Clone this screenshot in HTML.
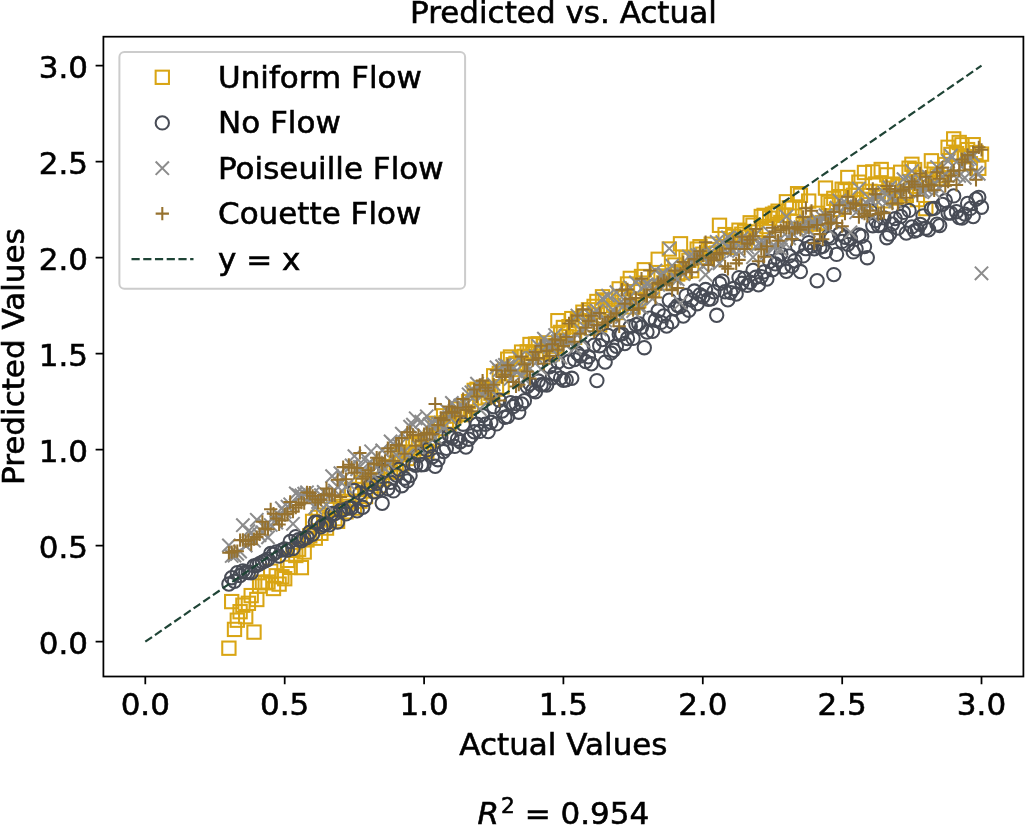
<!DOCTYPE html>
<html lang="en"><head><meta charset="utf-8"><title>Predicted vs. Actual</title>
<style>html,body{margin:0;padding:0;background:#fff;}body{width:1025px;height:825px;overflow:hidden;}svg{display:block;}text{font-family:'DejaVu Sans', 'Liberation Sans', sans-serif;fill:#000;stroke:#000;stroke-width:0.6px;}</style>
</head><body>
<svg width="1025" height="825" viewBox="0 0 1025 825">
<rect width="1025" height="825" fill="#fff"/>
<defs>
<rect id="sq" x="-6.65" y="-6.65" width="13.30" height="13.30" fill="none" stroke="#d9a514" stroke-width="2.05"/>
<circle id="ci" r="6.65" fill="none" stroke="#484c56" stroke-width="2.05"/>
<path id="xm" d="M-6.65 -6.65L6.65 6.65M-6.65 6.65L6.65 -6.65" fill="none" stroke="#8c8c8c" stroke-width="2.05"/>
<path id="pl" d="M-6.65 0H6.65M0 -6.65V6.65" fill="none" stroke="#96722f" stroke-width="2.05"/>
</defs>
<g>
<use href="#sq" x="228.9" y="648.2"/><use href="#sq" x="231.7" y="601.6"/><use href="#sq" x="234.5" y="629.4"/><use href="#sq" x="237.3" y="620.2"/><use href="#sq" x="240.1" y="611.7"/><use href="#sq" x="242.9" y="605.2"/><use href="#sq" x="245.7" y="616.7"/><use href="#sq" x="248.4" y="603.3"/><use href="#sq" x="251.2" y="595.6"/><use href="#sq" x="254.0" y="632.1"/><use href="#sq" x="256.8" y="599.5"/><use href="#sq" x="259.6" y="586.0"/><use href="#sq" x="262.4" y="582.2"/><use href="#sq" x="265.2" y="582.8"/><use href="#sq" x="268.0" y="582.1"/><use href="#sq" x="270.7" y="571.2"/><use href="#sq" x="273.5" y="588.5"/><use href="#sq" x="276.3" y="575.8"/><use href="#sq" x="279.1" y="584.1"/><use href="#sq" x="281.9" y="576.8"/><use href="#sq" x="284.7" y="578.7"/><use href="#sq" x="287.5" y="560.4"/><use href="#sq" x="290.2" y="567.4"/><use href="#sq" x="293.0" y="550.3"/><use href="#sq" x="295.8" y="555.5"/><use href="#sq" x="298.6" y="549.3"/><use href="#sq" x="301.4" y="567.6"/><use href="#sq" x="304.2" y="552.0"/><use href="#sq" x="307.0" y="539.9"/><use href="#sq" x="309.8" y="535.8"/><use href="#sq" x="312.6" y="521.4"/><use href="#sq" x="315.3" y="538.2"/><use href="#sq" x="318.1" y="517.4"/><use href="#sq" x="320.9" y="533.3"/><use href="#sq" x="323.7" y="515.2"/><use href="#sq" x="326.5" y="528.1"/><use href="#sq" x="329.3" y="519.3"/><use href="#sq" x="332.1" y="509.5"/><use href="#sq" x="334.9" y="518.7"/><use href="#sq" x="337.6" y="521.3"/><use href="#sq" x="340.4" y="508.4"/><use href="#sq" x="343.2" y="506.3"/><use href="#sq" x="346.0" y="511.8"/><use href="#sq" x="348.8" y="501.3"/><use href="#sq" x="351.6" y="489.5"/><use href="#sq" x="354.4" y="508.1"/><use href="#sq" x="357.1" y="489.6"/><use href="#sq" x="359.9" y="501.2"/><use href="#sq" x="362.7" y="482.3"/><use href="#sq" x="365.5" y="496.5"/><use href="#sq" x="368.3" y="480.1"/><use href="#sq" x="371.1" y="491.0"/><use href="#sq" x="373.9" y="479.7"/><use href="#sq" x="376.7" y="471.0"/><use href="#sq" x="379.4" y="485.8"/><use href="#sq" x="382.2" y="479.5"/><use href="#sq" x="385.0" y="466.9"/><use href="#sq" x="387.8" y="466.5"/><use href="#sq" x="390.6" y="472.3"/><use href="#sq" x="393.4" y="470.2"/><use href="#sq" x="396.2" y="462.9"/><use href="#sq" x="399.0" y="454.6"/><use href="#sq" x="401.8" y="463.8"/><use href="#sq" x="404.5" y="452.1"/><use href="#sq" x="407.3" y="458.5"/><use href="#sq" x="410.1" y="453.9"/><use href="#sq" x="412.9" y="445.0"/><use href="#sq" x="415.7" y="443.4"/><use href="#sq" x="418.5" y="441.5"/><use href="#sq" x="421.3" y="448.3"/><use href="#sq" x="424.1" y="451.3"/><use href="#sq" x="426.8" y="451.2"/><use href="#sq" x="429.6" y="439.2"/><use href="#sq" x="432.4" y="440.4"/><use href="#sq" x="435.2" y="423.3"/><use href="#sq" x="438.0" y="424.5"/><use href="#sq" x="440.8" y="428.6"/><use href="#sq" x="443.6" y="415.8"/><use href="#sq" x="446.4" y="422.7"/><use href="#sq" x="449.1" y="423.9"/><use href="#sq" x="451.9" y="421.0"/><use href="#sq" x="454.7" y="416.0"/><use href="#sq" x="457.5" y="409.0"/><use href="#sq" x="460.3" y="414.5"/><use href="#sq" x="463.1" y="414.5"/><use href="#sq" x="465.9" y="412.0"/><use href="#sq" x="468.6" y="401.6"/><use href="#sq" x="471.4" y="406.3"/><use href="#sq" x="474.2" y="390.4"/><use href="#sq" x="477.0" y="389.3"/><use href="#sq" x="479.8" y="397.9"/><use href="#sq" x="482.6" y="387.6"/><use href="#sq" x="485.4" y="389.9"/><use href="#sq" x="488.2" y="396.7"/><use href="#sq" x="490.9" y="393.2"/><use href="#sq" x="493.7" y="375.8"/><use href="#sq" x="496.5" y="389.1"/><use href="#sq" x="499.3" y="373.4"/><use href="#sq" x="502.1" y="386.9"/><use href="#sq" x="504.9" y="369.4"/><use href="#sq" x="507.7" y="359.2"/><use href="#sq" x="510.5" y="357.0"/><use href="#sq" x="513.2" y="364.7"/><use href="#sq" x="516.0" y="363.4"/><use href="#sq" x="518.8" y="369.5"/><use href="#sq" x="521.6" y="352.1"/><use href="#sq" x="524.4" y="356.4"/><use href="#sq" x="527.2" y="351.8"/><use href="#sq" x="530.0" y="344.5"/><use href="#sq" x="532.8" y="353.5"/><use href="#sq" x="535.5" y="344.1"/><use href="#sq" x="538.3" y="343.9"/><use href="#sq" x="541.1" y="352.8"/><use href="#sq" x="543.9" y="345.9"/><use href="#sq" x="546.7" y="342.9"/><use href="#sq" x="549.5" y="351.6"/><use href="#sq" x="552.3" y="353.7"/><use href="#sq" x="555.1" y="346.2"/><use href="#sq" x="557.9" y="320.7"/><use href="#sq" x="560.6" y="332.4"/><use href="#sq" x="563.4" y="327.5"/><use href="#sq" x="566.2" y="336.7"/><use href="#sq" x="569.0" y="326.7"/><use href="#sq" x="571.8" y="318.6"/><use href="#sq" x="574.6" y="337.3"/><use href="#sq" x="577.4" y="320.4"/><use href="#sq" x="580.2" y="320.7"/><use href="#sq" x="582.9" y="312.2"/><use href="#sq" x="585.7" y="316.4"/><use href="#sq" x="588.5" y="309.8"/><use href="#sq" x="591.3" y="328.4"/><use href="#sq" x="594.1" y="306.4"/><use href="#sq" x="596.9" y="301.5"/><use href="#sq" x="599.7" y="324.9"/><use href="#sq" x="602.5" y="296.8"/><use href="#sq" x="605.2" y="299.9"/><use href="#sq" x="608.0" y="310.4"/><use href="#sq" x="610.8" y="308.2"/><use href="#sq" x="613.6" y="305.4"/><use href="#sq" x="616.4" y="312.5"/><use href="#sq" x="619.2" y="288.9"/><use href="#sq" x="622.0" y="296.8"/><use href="#sq" x="624.8" y="297.8"/><use href="#sq" x="627.5" y="284.0"/><use href="#sq" x="630.3" y="278.4"/><use href="#sq" x="633.1" y="306.9"/><use href="#sq" x="635.9" y="299.7"/><use href="#sq" x="638.7" y="300.7"/><use href="#sq" x="641.5" y="276.5"/><use href="#sq" x="644.3" y="269.8"/><use href="#sq" x="647.0" y="290.3"/><use href="#sq" x="649.8" y="287.1"/><use href="#sq" x="652.6" y="290.3"/><use href="#sq" x="655.4" y="278.0"/><use href="#sq" x="658.2" y="259.3"/><use href="#sq" x="661.0" y="276.0"/><use href="#sq" x="663.8" y="282.9"/><use href="#sq" x="666.6" y="277.3"/><use href="#sq" x="669.3" y="249.0"/><use href="#sq" x="672.1" y="271.8"/><use href="#sq" x="674.9" y="265.0"/><use href="#sq" x="677.7" y="274.0"/><use href="#sq" x="680.5" y="243.8"/><use href="#sq" x="683.3" y="272.6"/><use href="#sq" x="686.1" y="257.5"/><use href="#sq" x="688.9" y="260.3"/><use href="#sq" x="691.7" y="270.7"/><use href="#sq" x="694.4" y="257.3"/><use href="#sq" x="697.2" y="249.1"/><use href="#sq" x="700.0" y="246.7"/><use href="#sq" x="702.8" y="254.2"/><use href="#sq" x="705.6" y="257.5"/><use href="#sq" x="708.4" y="249.6"/><use href="#sq" x="711.2" y="244.2"/><use href="#sq" x="714.0" y="253.6"/><use href="#sq" x="716.7" y="253.1"/><use href="#sq" x="719.5" y="225.3"/><use href="#sq" x="722.3" y="246.7"/><use href="#sq" x="725.1" y="234.6"/><use href="#sq" x="727.9" y="247.4"/><use href="#sq" x="730.7" y="240.7"/><use href="#sq" x="733.5" y="236.4"/><use href="#sq" x="736.2" y="239.6"/><use href="#sq" x="739.0" y="230.2"/><use href="#sq" x="741.8" y="234.2"/><use href="#sq" x="744.6" y="231.5"/><use href="#sq" x="747.4" y="237.2"/><use href="#sq" x="750.2" y="222.8"/><use href="#sq" x="753.0" y="225.2"/><use href="#sq" x="755.8" y="232.0"/><use href="#sq" x="758.5" y="242.6"/><use href="#sq" x="761.3" y="216.5"/><use href="#sq" x="764.1" y="215.4"/><use href="#sq" x="766.9" y="226.5"/><use href="#sq" x="769.7" y="218.2"/><use href="#sq" x="772.5" y="214.3"/><use href="#sq" x="775.3" y="213.2"/><use href="#sq" x="778.1" y="211.2"/><use href="#sq" x="780.8" y="222.5"/><use href="#sq" x="783.6" y="215.4"/><use href="#sq" x="786.4" y="201.8"/><use href="#sq" x="789.2" y="207.8"/><use href="#sq" x="792.0" y="208.2"/><use href="#sq" x="794.8" y="216.1"/><use href="#sq" x="797.6" y="193.7"/><use href="#sq" x="800.4" y="195.3"/><use href="#sq" x="803.1" y="224.5"/><use href="#sq" x="805.9" y="225.0"/><use href="#sq" x="808.7" y="201.1"/><use href="#sq" x="811.5" y="223.9"/><use href="#sq" x="814.3" y="223.3"/><use href="#sq" x="817.1" y="213.3"/><use href="#sq" x="819.9" y="223.8"/><use href="#sq" x="822.7" y="222.6"/><use href="#sq" x="825.5" y="188.1"/><use href="#sq" x="828.2" y="202.5"/><use href="#sq" x="831.0" y="204.6"/><use href="#sq" x="833.8" y="198.4"/><use href="#sq" x="836.6" y="209.4"/><use href="#sq" x="839.4" y="196.7"/><use href="#sq" x="842.2" y="189.2"/><use href="#sq" x="845.0" y="190.5"/><use href="#sq" x="847.8" y="177.5"/><use href="#sq" x="850.5" y="190.0"/><use href="#sq" x="853.3" y="195.3"/><use href="#sq" x="856.1" y="189.3"/><use href="#sq" x="858.9" y="182.2"/><use href="#sq" x="861.7" y="199.3"/><use href="#sq" x="864.5" y="172.5"/><use href="#sq" x="867.3" y="200.1"/><use href="#sq" x="870.0" y="191.4"/><use href="#sq" x="872.8" y="171.9"/><use href="#sq" x="875.6" y="184.0"/><use href="#sq" x="878.4" y="191.9"/><use href="#sq" x="881.2" y="169.5"/><use href="#sq" x="884.0" y="200.8"/><use href="#sq" x="886.8" y="174.9"/><use href="#sq" x="889.6" y="184.8"/><use href="#sq" x="892.4" y="184.1"/><use href="#sq" x="895.1" y="198.1"/><use href="#sq" x="897.9" y="186.4"/><use href="#sq" x="900.7" y="172.3"/><use href="#sq" x="903.5" y="193.4"/><use href="#sq" x="906.3" y="195.6"/><use href="#sq" x="909.1" y="168.2"/><use href="#sq" x="911.9" y="164.3"/><use href="#sq" x="914.6" y="169.6"/><use href="#sq" x="917.4" y="199.6"/><use href="#sq" x="920.2" y="182.0"/><use href="#sq" x="923.0" y="183.7"/><use href="#sq" x="925.8" y="208.6"/><use href="#sq" x="928.6" y="179.2"/><use href="#sq" x="931.4" y="160.8"/><use href="#sq" x="934.2" y="169.4"/><use href="#sq" x="937.0" y="175.8"/><use href="#sq" x="939.7" y="178.5"/><use href="#sq" x="942.5" y="179.2"/><use href="#sq" x="945.3" y="164.5"/><use href="#sq" x="948.1" y="147.3"/><use href="#sq" x="950.9" y="154.5"/><use href="#sq" x="953.7" y="138.9"/><use href="#sq" x="956.5" y="153.6"/><use href="#sq" x="959.2" y="142.5"/><use href="#sq" x="962.0" y="144.8"/><use href="#sq" x="964.8" y="156.7"/><use href="#sq" x="967.6" y="149.6"/><use href="#sq" x="970.4" y="163.7"/><use href="#sq" x="973.2" y="144.7"/><use href="#sq" x="976.0" y="152.5"/><use href="#sq" x="978.8" y="168.3"/><use href="#sq" x="981.5" y="154.1"/>
</g>
<g>
<use href="#ci" x="228.9" y="584.0"/><use href="#ci" x="231.7" y="577.7"/><use href="#ci" x="234.5" y="581.3"/><use href="#ci" x="237.3" y="572.7"/><use href="#ci" x="240.1" y="575.5"/><use href="#ci" x="242.9" y="570.9"/><use href="#ci" x="245.7" y="572.3"/><use href="#ci" x="248.4" y="572.6"/><use href="#ci" x="251.2" y="572.8"/><use href="#ci" x="254.0" y="565.9"/><use href="#ci" x="256.8" y="565.2"/><use href="#ci" x="259.6" y="563.8"/><use href="#ci" x="262.4" y="562.1"/><use href="#ci" x="265.2" y="560.7"/><use href="#ci" x="268.0" y="559.2"/><use href="#ci" x="270.7" y="553.5"/><use href="#ci" x="273.5" y="554.1"/><use href="#ci" x="276.3" y="551.9"/><use href="#ci" x="279.1" y="556.1"/><use href="#ci" x="281.9" y="550.1"/><use href="#ci" x="284.7" y="549.0"/><use href="#ci" x="287.5" y="550.1"/><use href="#ci" x="290.2" y="541.5"/><use href="#ci" x="293.0" y="548.5"/><use href="#ci" x="295.8" y="536.6"/><use href="#ci" x="298.6" y="539.8"/><use href="#ci" x="301.4" y="540.8"/><use href="#ci" x="304.2" y="538.4"/><use href="#ci" x="307.0" y="537.5"/><use href="#ci" x="309.8" y="532.3"/><use href="#ci" x="312.6" y="534.3"/><use href="#ci" x="315.3" y="522.2"/><use href="#ci" x="318.1" y="522.1"/><use href="#ci" x="320.9" y="526.9"/><use href="#ci" x="323.7" y="524.8"/><use href="#ci" x="326.5" y="523.6"/><use href="#ci" x="329.3" y="524.9"/><use href="#ci" x="332.1" y="513.4"/><use href="#ci" x="334.9" y="513.6"/><use href="#ci" x="337.6" y="522.0"/><use href="#ci" x="340.4" y="510.4"/><use href="#ci" x="343.2" y="509.9"/><use href="#ci" x="346.0" y="513.9"/><use href="#ci" x="348.8" y="507.9"/><use href="#ci" x="351.6" y="507.9"/><use href="#ci" x="354.4" y="490.5"/><use href="#ci" x="357.1" y="510.8"/><use href="#ci" x="359.9" y="492.9"/><use href="#ci" x="362.7" y="507.3"/><use href="#ci" x="365.5" y="499.6"/><use href="#ci" x="368.3" y="487.4"/><use href="#ci" x="371.1" y="484.3"/><use href="#ci" x="373.9" y="491.8"/><use href="#ci" x="376.7" y="483.2"/><use href="#ci" x="379.4" y="489.0"/><use href="#ci" x="382.2" y="503.3"/><use href="#ci" x="385.0" y="470.0"/><use href="#ci" x="387.8" y="488.8"/><use href="#ci" x="390.6" y="482.3"/><use href="#ci" x="393.4" y="490.9"/><use href="#ci" x="396.2" y="475.1"/><use href="#ci" x="399.0" y="469.3"/><use href="#ci" x="401.8" y="485.7"/><use href="#ci" x="404.5" y="478.2"/><use href="#ci" x="407.3" y="480.9"/><use href="#ci" x="410.1" y="475.5"/><use href="#ci" x="412.9" y="463.7"/><use href="#ci" x="415.7" y="465.3"/><use href="#ci" x="418.5" y="455.6"/><use href="#ci" x="421.3" y="464.7"/><use href="#ci" x="424.1" y="464.5"/><use href="#ci" x="426.8" y="449.9"/><use href="#ci" x="429.6" y="446.0"/><use href="#ci" x="432.4" y="456.7"/><use href="#ci" x="435.2" y="466.3"/><use href="#ci" x="438.0" y="459.7"/><use href="#ci" x="440.8" y="437.7"/><use href="#ci" x="443.6" y="451.5"/><use href="#ci" x="446.4" y="448.3"/><use href="#ci" x="449.1" y="434.7"/><use href="#ci" x="451.9" y="438.0"/><use href="#ci" x="454.7" y="446.4"/><use href="#ci" x="457.5" y="439.1"/><use href="#ci" x="460.3" y="441.7"/><use href="#ci" x="463.1" y="424.2"/><use href="#ci" x="465.9" y="447.1"/><use href="#ci" x="468.6" y="439.2"/><use href="#ci" x="471.4" y="435.9"/><use href="#ci" x="474.2" y="431.8"/><use href="#ci" x="477.0" y="424.2"/><use href="#ci" x="479.8" y="431.4"/><use href="#ci" x="482.6" y="415.6"/><use href="#ci" x="485.4" y="424.2"/><use href="#ci" x="488.2" y="431.6"/><use href="#ci" x="490.9" y="422.3"/><use href="#ci" x="493.7" y="406.7"/><use href="#ci" x="496.5" y="423.9"/><use href="#ci" x="499.3" y="400.3"/><use href="#ci" x="502.1" y="411.1"/><use href="#ci" x="504.9" y="417.3"/><use href="#ci" x="507.7" y="416.5"/><use href="#ci" x="510.5" y="402.7"/><use href="#ci" x="513.2" y="406.5"/><use href="#ci" x="516.0" y="403.5"/><use href="#ci" x="518.8" y="412.2"/><use href="#ci" x="521.6" y="403.9"/><use href="#ci" x="524.4" y="400.7"/><use href="#ci" x="527.2" y="386.5"/><use href="#ci" x="530.0" y="383.9"/><use href="#ci" x="532.8" y="390.4"/><use href="#ci" x="535.5" y="391.7"/><use href="#ci" x="538.3" y="381.0"/><use href="#ci" x="541.1" y="384.7"/><use href="#ci" x="543.9" y="384.6"/><use href="#ci" x="546.7" y="385.0"/><use href="#ci" x="549.5" y="366.7"/><use href="#ci" x="552.3" y="377.8"/><use href="#ci" x="555.1" y="373.7"/><use href="#ci" x="557.9" y="362.1"/><use href="#ci" x="560.6" y="378.1"/><use href="#ci" x="563.4" y="380.4"/><use href="#ci" x="566.2" y="379.9"/><use href="#ci" x="569.0" y="361.5"/><use href="#ci" x="571.8" y="378.3"/><use href="#ci" x="574.6" y="359.6"/><use href="#ci" x="577.4" y="353.3"/><use href="#ci" x="580.2" y="356.0"/><use href="#ci" x="582.9" y="347.3"/><use href="#ci" x="585.7" y="361.5"/><use href="#ci" x="588.5" y="356.8"/><use href="#ci" x="591.3" y="363.8"/><use href="#ci" x="594.1" y="345.2"/><use href="#ci" x="596.9" y="380.6"/><use href="#ci" x="599.7" y="345.7"/><use href="#ci" x="602.5" y="339.6"/><use href="#ci" x="605.2" y="362.1"/><use href="#ci" x="608.0" y="335.4"/><use href="#ci" x="610.8" y="353.0"/><use href="#ci" x="613.6" y="350.3"/><use href="#ci" x="616.4" y="346.3"/><use href="#ci" x="619.2" y="334.6"/><use href="#ci" x="622.0" y="333.9"/><use href="#ci" x="624.8" y="343.5"/><use href="#ci" x="627.5" y="338.5"/><use href="#ci" x="630.3" y="326.8"/><use href="#ci" x="633.1" y="338.4"/><use href="#ci" x="635.9" y="324.6"/><use href="#ci" x="638.7" y="323.7"/><use href="#ci" x="641.5" y="327.2"/><use href="#ci" x="644.3" y="347.7"/><use href="#ci" x="647.0" y="332.1"/><use href="#ci" x="649.8" y="318.2"/><use href="#ci" x="652.6" y="331.3"/><use href="#ci" x="655.4" y="320.3"/><use href="#ci" x="658.2" y="310.8"/><use href="#ci" x="661.0" y="322.4"/><use href="#ci" x="663.8" y="315.9"/><use href="#ci" x="666.6" y="326.0"/><use href="#ci" x="669.3" y="300.2"/><use href="#ci" x="672.1" y="321.8"/><use href="#ci" x="674.9" y="308.6"/><use href="#ci" x="677.7" y="305.5"/><use href="#ci" x="680.5" y="306.5"/><use href="#ci" x="683.3" y="316.1"/><use href="#ci" x="686.1" y="295.5"/><use href="#ci" x="688.9" y="310.2"/><use href="#ci" x="691.7" y="300.0"/><use href="#ci" x="694.4" y="291.0"/><use href="#ci" x="697.2" y="303.7"/><use href="#ci" x="700.0" y="294.7"/><use href="#ci" x="702.8" y="296.8"/><use href="#ci" x="705.6" y="289.5"/><use href="#ci" x="708.4" y="299.3"/><use href="#ci" x="711.2" y="298.9"/><use href="#ci" x="714.0" y="291.8"/><use href="#ci" x="716.7" y="315.3"/><use href="#ci" x="719.5" y="283.5"/><use href="#ci" x="722.3" y="281.1"/><use href="#ci" x="725.1" y="291.8"/><use href="#ci" x="727.9" y="299.8"/><use href="#ci" x="730.7" y="292.6"/><use href="#ci" x="733.5" y="288.5"/><use href="#ci" x="736.2" y="294.0"/><use href="#ci" x="739.0" y="277.6"/><use href="#ci" x="741.8" y="283.3"/><use href="#ci" x="744.6" y="278.4"/><use href="#ci" x="747.4" y="285.3"/><use href="#ci" x="750.2" y="282.2"/><use href="#ci" x="753.0" y="270.4"/><use href="#ci" x="755.8" y="277.3"/><use href="#ci" x="758.5" y="284.8"/><use href="#ci" x="761.3" y="276.6"/><use href="#ci" x="764.1" y="271.8"/><use href="#ci" x="766.9" y="279.1"/><use href="#ci" x="769.7" y="261.5"/><use href="#ci" x="772.5" y="269.7"/><use href="#ci" x="775.3" y="263.9"/><use href="#ci" x="778.1" y="259.9"/><use href="#ci" x="780.8" y="254.0"/><use href="#ci" x="783.6" y="267.1"/><use href="#ci" x="786.4" y="271.3"/><use href="#ci" x="789.2" y="255.8"/><use href="#ci" x="792.0" y="266.0"/><use href="#ci" x="794.8" y="260.8"/><use href="#ci" x="797.6" y="246.4"/><use href="#ci" x="800.4" y="271.5"/><use href="#ci" x="803.1" y="255.9"/><use href="#ci" x="805.9" y="248.7"/><use href="#ci" x="808.7" y="242.6"/><use href="#ci" x="811.5" y="246.1"/><use href="#ci" x="814.3" y="248.8"/><use href="#ci" x="817.1" y="280.7"/><use href="#ci" x="819.9" y="247.2"/><use href="#ci" x="822.7" y="246.4"/><use href="#ci" x="825.5" y="251.6"/><use href="#ci" x="828.2" y="236.6"/><use href="#ci" x="831.0" y="237.9"/><use href="#ci" x="833.8" y="274.6"/><use href="#ci" x="836.6" y="254.4"/><use href="#ci" x="839.4" y="233.9"/><use href="#ci" x="842.2" y="241.4"/><use href="#ci" x="845.0" y="237.2"/><use href="#ci" x="847.8" y="244.3"/><use href="#ci" x="850.5" y="238.6"/><use href="#ci" x="853.3" y="251.9"/><use href="#ci" x="856.1" y="248.9"/><use href="#ci" x="858.9" y="235.0"/><use href="#ci" x="861.7" y="236.2"/><use href="#ci" x="864.5" y="246.6"/><use href="#ci" x="867.3" y="257.7"/><use href="#ci" x="870.0" y="210.5"/><use href="#ci" x="872.8" y="225.7"/><use href="#ci" x="875.6" y="220.5"/><use href="#ci" x="878.4" y="225.6"/><use href="#ci" x="881.2" y="224.9"/><use href="#ci" x="884.0" y="217.8"/><use href="#ci" x="886.8" y="237.7"/><use href="#ci" x="889.6" y="234.0"/><use href="#ci" x="892.4" y="224.1"/><use href="#ci" x="895.1" y="218.6"/><use href="#ci" x="897.9" y="228.1"/><use href="#ci" x="900.7" y="216.5"/><use href="#ci" x="903.5" y="212.4"/><use href="#ci" x="906.3" y="233.1"/><use href="#ci" x="909.1" y="210.4"/><use href="#ci" x="911.9" y="226.9"/><use href="#ci" x="914.6" y="231.0"/><use href="#ci" x="917.4" y="229.9"/><use href="#ci" x="920.2" y="224.3"/><use href="#ci" x="923.0" y="215.8"/><use href="#ci" x="925.8" y="228.2"/><use href="#ci" x="928.6" y="229.8"/><use href="#ci" x="931.4" y="208.8"/><use href="#ci" x="934.2" y="208.4"/><use href="#ci" x="937.0" y="224.2"/><use href="#ci" x="939.7" y="225.6"/><use href="#ci" x="942.5" y="204.4"/><use href="#ci" x="945.3" y="200.5"/><use href="#ci" x="948.1" y="213.0"/><use href="#ci" x="950.9" y="213.1"/><use href="#ci" x="953.7" y="195.9"/><use href="#ci" x="956.5" y="211.7"/><use href="#ci" x="959.2" y="217.5"/><use href="#ci" x="962.0" y="218.0"/><use href="#ci" x="964.8" y="214.1"/><use href="#ci" x="967.6" y="203.4"/><use href="#ci" x="970.4" y="208.4"/><use href="#ci" x="973.2" y="216.5"/><use href="#ci" x="976.0" y="199.2"/><use href="#ci" x="978.8" y="197.3"/><use href="#ci" x="981.5" y="207.2"/>
</g>
<g>
<use href="#xm" x="228.9" y="545.4"/><use href="#xm" x="231.7" y="556.0"/><use href="#xm" x="234.5" y="555.6"/><use href="#xm" x="237.3" y="553.8"/><use href="#xm" x="240.1" y="551.6"/><use href="#xm" x="242.9" y="525.2"/><use href="#xm" x="245.7" y="545.6"/><use href="#xm" x="248.4" y="531.2"/><use href="#xm" x="251.2" y="532.5"/><use href="#xm" x="254.0" y="540.7"/><use href="#xm" x="256.8" y="519.8"/><use href="#xm" x="259.6" y="535.1"/><use href="#xm" x="262.4" y="532.4"/><use href="#xm" x="265.2" y="525.3"/><use href="#xm" x="268.0" y="537.4"/><use href="#xm" x="270.7" y="525.0"/><use href="#xm" x="273.5" y="517.8"/><use href="#xm" x="276.3" y="522.6"/><use href="#xm" x="279.1" y="515.0"/><use href="#xm" x="281.9" y="508.2"/><use href="#xm" x="284.7" y="511.9"/><use href="#xm" x="287.5" y="506.6"/><use href="#xm" x="290.2" y="504.3"/><use href="#xm" x="293.0" y="523.8"/><use href="#xm" x="295.8" y="493.4"/><use href="#xm" x="298.6" y="495.0"/><use href="#xm" x="301.4" y="495.4"/><use href="#xm" x="304.2" y="493.6"/><use href="#xm" x="307.0" y="492.3"/><use href="#xm" x="309.8" y="499.4"/><use href="#xm" x="312.6" y="494.0"/><use href="#xm" x="315.3" y="507.7"/><use href="#xm" x="318.1" y="502.1"/><use href="#xm" x="320.9" y="495.1"/><use href="#xm" x="323.7" y="491.9"/><use href="#xm" x="326.5" y="504.7"/><use href="#xm" x="329.3" y="495.4"/><use href="#xm" x="332.1" y="476.1"/><use href="#xm" x="334.9" y="490.5"/><use href="#xm" x="337.6" y="486.6"/><use href="#xm" x="340.4" y="473.1"/><use href="#xm" x="343.2" y="478.4"/><use href="#xm" x="346.0" y="487.2"/><use href="#xm" x="348.8" y="483.7"/><use href="#xm" x="351.6" y="465.4"/><use href="#xm" x="354.4" y="456.1"/><use href="#xm" x="357.1" y="469.3"/><use href="#xm" x="359.9" y="466.8"/><use href="#xm" x="362.7" y="472.3"/><use href="#xm" x="365.5" y="458.0"/><use href="#xm" x="368.3" y="463.6"/><use href="#xm" x="371.1" y="451.3"/><use href="#xm" x="373.9" y="475.6"/><use href="#xm" x="376.7" y="467.0"/><use href="#xm" x="379.4" y="464.3"/><use href="#xm" x="382.2" y="450.4"/><use href="#xm" x="385.0" y="468.6"/><use href="#xm" x="387.8" y="462.5"/><use href="#xm" x="390.6" y="441.4"/><use href="#xm" x="393.4" y="444.0"/><use href="#xm" x="396.2" y="454.9"/><use href="#xm" x="399.0" y="445.5"/><use href="#xm" x="401.8" y="433.6"/><use href="#xm" x="404.5" y="451.6"/><use href="#xm" x="407.3" y="455.3"/><use href="#xm" x="410.1" y="426.6"/><use href="#xm" x="412.9" y="424.7"/><use href="#xm" x="415.7" y="418.3"/><use href="#xm" x="418.5" y="447.3"/><use href="#xm" x="421.3" y="421.6"/><use href="#xm" x="424.1" y="435.2"/><use href="#xm" x="426.8" y="416.3"/><use href="#xm" x="429.6" y="424.4"/><use href="#xm" x="432.4" y="423.6"/><use href="#xm" x="435.2" y="437.3"/><use href="#xm" x="438.0" y="423.6"/><use href="#xm" x="440.8" y="422.5"/><use href="#xm" x="443.6" y="427.4"/><use href="#xm" x="446.4" y="410.2"/><use href="#xm" x="449.1" y="417.0"/><use href="#xm" x="451.9" y="402.9"/><use href="#xm" x="454.7" y="410.4"/><use href="#xm" x="457.5" y="411.2"/><use href="#xm" x="460.3" y="405.4"/><use href="#xm" x="463.1" y="406.3"/><use href="#xm" x="465.9" y="404.9"/><use href="#xm" x="468.6" y="394.3"/><use href="#xm" x="471.4" y="392.3"/><use href="#xm" x="474.2" y="391.3"/><use href="#xm" x="477.0" y="383.6"/><use href="#xm" x="479.8" y="409.1"/><use href="#xm" x="482.6" y="395.3"/><use href="#xm" x="485.4" y="391.8"/><use href="#xm" x="488.2" y="386.5"/><use href="#xm" x="490.9" y="390.4"/><use href="#xm" x="493.7" y="384.4"/><use href="#xm" x="496.5" y="367.3"/><use href="#xm" x="499.3" y="370.4"/><use href="#xm" x="502.1" y="366.2"/><use href="#xm" x="504.9" y="364.9"/><use href="#xm" x="507.7" y="366.3"/><use href="#xm" x="510.5" y="379.0"/><use href="#xm" x="513.2" y="368.7"/><use href="#xm" x="516.0" y="371.3"/><use href="#xm" x="518.8" y="357.9"/><use href="#xm" x="521.6" y="375.0"/><use href="#xm" x="524.4" y="378.8"/><use href="#xm" x="527.2" y="367.3"/><use href="#xm" x="530.0" y="368.5"/><use href="#xm" x="532.8" y="357.8"/><use href="#xm" x="535.5" y="356.2"/><use href="#xm" x="538.3" y="345.9"/><use href="#xm" x="541.1" y="369.1"/><use href="#xm" x="543.9" y="338.6"/><use href="#xm" x="546.7" y="345.9"/><use href="#xm" x="549.5" y="347.2"/><use href="#xm" x="552.3" y="345.0"/><use href="#xm" x="555.1" y="335.0"/><use href="#xm" x="557.9" y="341.2"/><use href="#xm" x="560.6" y="357.7"/><use href="#xm" x="563.4" y="341.9"/><use href="#xm" x="566.2" y="345.1"/><use href="#xm" x="569.0" y="339.9"/><use href="#xm" x="571.8" y="340.4"/><use href="#xm" x="574.6" y="348.0"/><use href="#xm" x="577.4" y="315.5"/><use href="#xm" x="580.2" y="329.6"/><use href="#xm" x="582.9" y="340.8"/><use href="#xm" x="585.7" y="328.2"/><use href="#xm" x="588.5" y="322.9"/><use href="#xm" x="591.3" y="316.1"/><use href="#xm" x="594.1" y="312.6"/><use href="#xm" x="596.9" y="310.7"/><use href="#xm" x="599.7" y="329.3"/><use href="#xm" x="602.5" y="298.6"/><use href="#xm" x="605.2" y="320.6"/><use href="#xm" x="608.0" y="295.6"/><use href="#xm" x="610.8" y="312.3"/><use href="#xm" x="613.6" y="310.6"/><use href="#xm" x="616.4" y="292.2"/><use href="#xm" x="619.2" y="303.6"/><use href="#xm" x="622.0" y="317.0"/><use href="#xm" x="624.8" y="304.8"/><use href="#xm" x="627.5" y="299.4"/><use href="#xm" x="630.3" y="287.3"/><use href="#xm" x="633.1" y="311.1"/><use href="#xm" x="635.9" y="282.4"/><use href="#xm" x="638.7" y="306.4"/><use href="#xm" x="641.5" y="307.6"/><use href="#xm" x="644.3" y="285.8"/><use href="#xm" x="647.0" y="284.3"/><use href="#xm" x="649.8" y="285.5"/><use href="#xm" x="652.6" y="298.6"/><use href="#xm" x="655.4" y="270.5"/><use href="#xm" x="658.2" y="284.9"/><use href="#xm" x="661.0" y="274.6"/><use href="#xm" x="663.8" y="273.6"/><use href="#xm" x="666.6" y="283.1"/><use href="#xm" x="669.3" y="248.5"/><use href="#xm" x="672.1" y="265.7"/><use href="#xm" x="674.9" y="278.4"/><use href="#xm" x="677.7" y="279.4"/><use href="#xm" x="680.5" y="303.0"/><use href="#xm" x="683.3" y="274.2"/><use href="#xm" x="686.1" y="268.8"/><use href="#xm" x="688.9" y="256.5"/><use href="#xm" x="691.7" y="258.6"/><use href="#xm" x="694.4" y="257.5"/><use href="#xm" x="697.2" y="255.2"/><use href="#xm" x="700.0" y="254.4"/><use href="#xm" x="702.8" y="266.0"/><use href="#xm" x="705.6" y="274.8"/><use href="#xm" x="708.4" y="261.8"/><use href="#xm" x="711.2" y="252.1"/><use href="#xm" x="714.0" y="257.3"/><use href="#xm" x="716.7" y="241.9"/><use href="#xm" x="719.5" y="263.3"/><use href="#xm" x="722.3" y="242.0"/><use href="#xm" x="725.1" y="249.9"/><use href="#xm" x="727.9" y="237.4"/><use href="#xm" x="730.7" y="249.0"/><use href="#xm" x="733.5" y="250.7"/><use href="#xm" x="736.2" y="243.1"/><use href="#xm" x="739.0" y="251.0"/><use href="#xm" x="741.8" y="238.1"/><use href="#xm" x="744.6" y="243.2"/><use href="#xm" x="747.4" y="247.5"/><use href="#xm" x="750.2" y="241.0"/><use href="#xm" x="753.0" y="257.2"/><use href="#xm" x="755.8" y="234.3"/><use href="#xm" x="758.5" y="243.8"/><use href="#xm" x="761.3" y="244.0"/><use href="#xm" x="764.1" y="243.2"/><use href="#xm" x="766.9" y="252.7"/><use href="#xm" x="769.7" y="233.0"/><use href="#xm" x="772.5" y="246.7"/><use href="#xm" x="775.3" y="246.5"/><use href="#xm" x="778.1" y="241.1"/><use href="#xm" x="780.8" y="249.5"/><use href="#xm" x="783.6" y="241.7"/><use href="#xm" x="786.4" y="216.5"/><use href="#xm" x="789.2" y="238.4"/><use href="#xm" x="792.0" y="233.1"/><use href="#xm" x="794.8" y="228.0"/><use href="#xm" x="797.6" y="229.7"/><use href="#xm" x="800.4" y="227.3"/><use href="#xm" x="803.1" y="227.8"/><use href="#xm" x="805.9" y="221.3"/><use href="#xm" x="808.7" y="230.4"/><use href="#xm" x="811.5" y="222.3"/><use href="#xm" x="814.3" y="223.2"/><use href="#xm" x="817.1" y="219.5"/><use href="#xm" x="819.9" y="223.3"/><use href="#xm" x="822.7" y="218.0"/><use href="#xm" x="825.5" y="215.2"/><use href="#xm" x="828.2" y="228.8"/><use href="#xm" x="831.0" y="217.2"/><use href="#xm" x="833.8" y="221.1"/><use href="#xm" x="836.6" y="207.5"/><use href="#xm" x="839.4" y="200.5"/><use href="#xm" x="842.2" y="203.4"/><use href="#xm" x="845.0" y="206.4"/><use href="#xm" x="847.8" y="205.1"/><use href="#xm" x="850.5" y="232.3"/><use href="#xm" x="853.3" y="205.5"/><use href="#xm" x="856.1" y="212.5"/><use href="#xm" x="858.9" y="188.5"/><use href="#xm" x="861.7" y="206.2"/><use href="#xm" x="864.5" y="210.3"/><use href="#xm" x="867.3" y="203.9"/><use href="#xm" x="870.0" y="199.3"/><use href="#xm" x="872.8" y="216.2"/><use href="#xm" x="875.6" y="199.5"/><use href="#xm" x="878.4" y="194.9"/><use href="#xm" x="881.2" y="199.2"/><use href="#xm" x="884.0" y="192.5"/><use href="#xm" x="886.8" y="202.3"/><use href="#xm" x="889.6" y="187.4"/><use href="#xm" x="892.4" y="196.6"/><use href="#xm" x="895.1" y="201.4"/><use href="#xm" x="897.9" y="189.6"/><use href="#xm" x="900.7" y="195.6"/><use href="#xm" x="903.5" y="179.1"/><use href="#xm" x="906.3" y="189.7"/><use href="#xm" x="909.1" y="181.2"/><use href="#xm" x="911.9" y="171.0"/><use href="#xm" x="914.6" y="182.8"/><use href="#xm" x="917.4" y="182.9"/><use href="#xm" x="920.2" y="191.4"/><use href="#xm" x="923.0" y="191.1"/><use href="#xm" x="925.8" y="188.4"/><use href="#xm" x="928.6" y="176.7"/><use href="#xm" x="931.4" y="186.3"/><use href="#xm" x="934.2" y="192.2"/><use href="#xm" x="937.0" y="167.0"/><use href="#xm" x="939.7" y="188.5"/><use href="#xm" x="942.5" y="176.7"/><use href="#xm" x="945.3" y="174.6"/><use href="#xm" x="948.1" y="161.2"/><use href="#xm" x="950.9" y="155.7"/><use href="#xm" x="953.7" y="175.2"/><use href="#xm" x="956.5" y="161.9"/><use href="#xm" x="959.2" y="175.8"/><use href="#xm" x="962.0" y="166.0"/><use href="#xm" x="964.8" y="177.9"/><use href="#xm" x="967.6" y="159.6"/><use href="#xm" x="970.4" y="158.9"/><use href="#xm" x="973.2" y="155.4"/><use href="#xm" x="976.0" y="172.7"/><use href="#xm" x="978.8" y="173.8"/><use href="#xm" x="981.5" y="273.3"/>
</g>
<g>
<use href="#pl" x="228.9" y="552.8"/><use href="#pl" x="231.7" y="552.2"/><use href="#pl" x="234.5" y="551.1"/><use href="#pl" x="237.3" y="551.2"/><use href="#pl" x="240.1" y="540.2"/><use href="#pl" x="242.9" y="540.0"/><use href="#pl" x="245.7" y="541.1"/><use href="#pl" x="248.4" y="540.0"/><use href="#pl" x="251.2" y="544.2"/><use href="#pl" x="254.0" y="539.2"/><use href="#pl" x="256.8" y="537.1"/><use href="#pl" x="259.6" y="534.4"/><use href="#pl" x="262.4" y="521.8"/><use href="#pl" x="265.2" y="528.4"/><use href="#pl" x="268.0" y="529.2"/><use href="#pl" x="270.7" y="509.3"/><use href="#pl" x="273.5" y="513.7"/><use href="#pl" x="276.3" y="518.4"/><use href="#pl" x="279.1" y="524.4"/><use href="#pl" x="281.9" y="520.6"/><use href="#pl" x="284.7" y="514.5"/><use href="#pl" x="287.5" y="514.0"/><use href="#pl" x="290.2" y="502.0"/><use href="#pl" x="293.0" y="511.7"/><use href="#pl" x="295.8" y="507.5"/><use href="#pl" x="298.6" y="505.0"/><use href="#pl" x="301.4" y="502.6"/><use href="#pl" x="304.2" y="503.2"/><use href="#pl" x="307.0" y="492.5"/><use href="#pl" x="309.8" y="492.6"/><use href="#pl" x="312.6" y="496.0"/><use href="#pl" x="315.3" y="499.4"/><use href="#pl" x="318.1" y="502.5"/><use href="#pl" x="320.9" y="499.6"/><use href="#pl" x="323.7" y="495.1"/><use href="#pl" x="326.5" y="488.5"/><use href="#pl" x="329.3" y="494.3"/><use href="#pl" x="332.1" y="495.7"/><use href="#pl" x="334.9" y="495.3"/><use href="#pl" x="337.6" y="479.8"/><use href="#pl" x="340.4" y="497.0"/><use href="#pl" x="343.2" y="467.1"/><use href="#pl" x="346.0" y="479.2"/><use href="#pl" x="348.8" y="464.8"/><use href="#pl" x="351.6" y="467.4"/><use href="#pl" x="354.4" y="472.7"/><use href="#pl" x="357.1" y="468.0"/><use href="#pl" x="359.9" y="452.9"/><use href="#pl" x="362.7" y="478.7"/><use href="#pl" x="365.5" y="476.7"/><use href="#pl" x="368.3" y="470.2"/><use href="#pl" x="371.1" y="473.6"/><use href="#pl" x="373.9" y="463.6"/><use href="#pl" x="376.7" y="457.7"/><use href="#pl" x="379.4" y="458.1"/><use href="#pl" x="382.2" y="465.2"/><use href="#pl" x="385.0" y="460.8"/><use href="#pl" x="387.8" y="448.2"/><use href="#pl" x="390.6" y="451.4"/><use href="#pl" x="393.4" y="460.8"/><use href="#pl" x="396.2" y="445.0"/><use href="#pl" x="399.0" y="445.8"/><use href="#pl" x="401.8" y="438.1"/><use href="#pl" x="404.5" y="453.7"/><use href="#pl" x="407.3" y="432.3"/><use href="#pl" x="410.1" y="432.2"/><use href="#pl" x="412.9" y="434.9"/><use href="#pl" x="415.7" y="445.7"/><use href="#pl" x="418.5" y="435.3"/><use href="#pl" x="421.3" y="440.4"/><use href="#pl" x="424.1" y="434.1"/><use href="#pl" x="426.8" y="433.0"/><use href="#pl" x="429.6" y="434.4"/><use href="#pl" x="432.4" y="433.9"/><use href="#pl" x="435.2" y="403.9"/><use href="#pl" x="438.0" y="425.1"/><use href="#pl" x="440.8" y="418.0"/><use href="#pl" x="443.6" y="420.1"/><use href="#pl" x="446.4" y="412.7"/><use href="#pl" x="449.1" y="406.4"/><use href="#pl" x="451.9" y="411.8"/><use href="#pl" x="454.7" y="412.8"/><use href="#pl" x="457.5" y="407.8"/><use href="#pl" x="460.3" y="416.2"/><use href="#pl" x="463.1" y="399.1"/><use href="#pl" x="465.9" y="410.0"/><use href="#pl" x="468.6" y="407.1"/><use href="#pl" x="471.4" y="411.3"/><use href="#pl" x="474.2" y="389.4"/><use href="#pl" x="477.0" y="396.4"/><use href="#pl" x="479.8" y="385.0"/><use href="#pl" x="482.6" y="380.6"/><use href="#pl" x="485.4" y="387.7"/><use href="#pl" x="488.2" y="390.8"/><use href="#pl" x="490.9" y="398.6"/><use href="#pl" x="493.7" y="384.7"/><use href="#pl" x="496.5" y="370.3"/><use href="#pl" x="499.3" y="400.4"/><use href="#pl" x="502.1" y="377.0"/><use href="#pl" x="504.9" y="374.7"/><use href="#pl" x="507.7" y="365.2"/><use href="#pl" x="510.5" y="370.5"/><use href="#pl" x="513.2" y="382.0"/><use href="#pl" x="516.0" y="386.4"/><use href="#pl" x="518.8" y="384.7"/><use href="#pl" x="521.6" y="356.6"/><use href="#pl" x="524.4" y="364.4"/><use href="#pl" x="527.2" y="371.5"/><use href="#pl" x="530.0" y="378.5"/><use href="#pl" x="532.8" y="360.0"/><use href="#pl" x="535.5" y="352.0"/><use href="#pl" x="538.3" y="358.1"/><use href="#pl" x="541.1" y="345.8"/><use href="#pl" x="543.9" y="363.7"/><use href="#pl" x="546.7" y="350.9"/><use href="#pl" x="549.5" y="355.9"/><use href="#pl" x="552.3" y="344.2"/><use href="#pl" x="555.1" y="339.5"/><use href="#pl" x="557.9" y="349.6"/><use href="#pl" x="560.6" y="340.2"/><use href="#pl" x="563.4" y="346.1"/><use href="#pl" x="566.2" y="337.0"/><use href="#pl" x="569.0" y="323.5"/><use href="#pl" x="571.8" y="320.8"/><use href="#pl" x="574.6" y="341.8"/><use href="#pl" x="577.4" y="315.6"/><use href="#pl" x="580.2" y="333.6"/><use href="#pl" x="582.9" y="309.4"/><use href="#pl" x="585.7" y="327.7"/><use href="#pl" x="588.5" y="320.9"/><use href="#pl" x="591.3" y="315.8"/><use href="#pl" x="594.1" y="331.3"/><use href="#pl" x="596.9" y="325.1"/><use href="#pl" x="599.7" y="313.1"/><use href="#pl" x="602.5" y="324.6"/><use href="#pl" x="605.2" y="322.5"/><use href="#pl" x="608.0" y="321.5"/><use href="#pl" x="610.8" y="317.0"/><use href="#pl" x="613.6" y="320.5"/><use href="#pl" x="616.4" y="313.4"/><use href="#pl" x="619.2" y="326.3"/><use href="#pl" x="622.0" y="289.7"/><use href="#pl" x="624.8" y="303.8"/><use href="#pl" x="627.5" y="289.5"/><use href="#pl" x="630.3" y="299.1"/><use href="#pl" x="633.1" y="310.0"/><use href="#pl" x="635.9" y="298.0"/><use href="#pl" x="638.7" y="308.2"/><use href="#pl" x="641.5" y="278.6"/><use href="#pl" x="644.3" y="294.9"/><use href="#pl" x="647.0" y="296.2"/><use href="#pl" x="649.8" y="270.5"/><use href="#pl" x="652.6" y="289.5"/><use href="#pl" x="655.4" y="297.5"/><use href="#pl" x="658.2" y="282.8"/><use href="#pl" x="661.0" y="284.1"/><use href="#pl" x="663.8" y="280.7"/><use href="#pl" x="666.6" y="282.9"/><use href="#pl" x="669.3" y="279.7"/><use href="#pl" x="672.1" y="290.1"/><use href="#pl" x="674.9" y="270.6"/><use href="#pl" x="677.7" y="288.0"/><use href="#pl" x="680.5" y="273.7"/><use href="#pl" x="683.3" y="262.1"/><use href="#pl" x="686.1" y="269.6"/><use href="#pl" x="688.9" y="266.4"/><use href="#pl" x="691.7" y="272.3"/><use href="#pl" x="694.4" y="259.1"/><use href="#pl" x="697.2" y="259.1"/><use href="#pl" x="700.0" y="251.3"/><use href="#pl" x="702.8" y="255.7"/><use href="#pl" x="705.6" y="242.2"/><use href="#pl" x="708.4" y="265.0"/><use href="#pl" x="711.2" y="257.6"/><use href="#pl" x="714.0" y="260.2"/><use href="#pl" x="716.7" y="254.2"/><use href="#pl" x="719.5" y="252.9"/><use href="#pl" x="722.3" y="253.2"/><use href="#pl" x="725.1" y="266.4"/><use href="#pl" x="727.9" y="268.8"/><use href="#pl" x="730.7" y="248.8"/><use href="#pl" x="733.5" y="242.0"/><use href="#pl" x="736.2" y="263.4"/><use href="#pl" x="739.0" y="259.9"/><use href="#pl" x="741.8" y="236.7"/><use href="#pl" x="744.6" y="248.9"/><use href="#pl" x="747.4" y="243.6"/><use href="#pl" x="750.2" y="239.8"/><use href="#pl" x="753.0" y="236.3"/><use href="#pl" x="755.8" y="228.9"/><use href="#pl" x="758.5" y="261.2"/><use href="#pl" x="761.3" y="249.2"/><use href="#pl" x="764.1" y="256.7"/><use href="#pl" x="766.9" y="246.2"/><use href="#pl" x="769.7" y="237.0"/><use href="#pl" x="772.5" y="227.8"/><use href="#pl" x="775.3" y="232.2"/><use href="#pl" x="778.1" y="240.7"/><use href="#pl" x="780.8" y="230.3"/><use href="#pl" x="783.6" y="226.3"/><use href="#pl" x="786.4" y="227.9"/><use href="#pl" x="789.2" y="227.6"/><use href="#pl" x="792.0" y="239.1"/><use href="#pl" x="794.8" y="228.6"/><use href="#pl" x="797.6" y="227.1"/><use href="#pl" x="800.4" y="229.6"/><use href="#pl" x="803.1" y="217.0"/><use href="#pl" x="805.9" y="208.2"/><use href="#pl" x="808.7" y="227.1"/><use href="#pl" x="811.5" y="210.8"/><use href="#pl" x="814.3" y="243.2"/><use href="#pl" x="817.1" y="224.9"/><use href="#pl" x="819.9" y="234.1"/><use href="#pl" x="822.7" y="239.3"/><use href="#pl" x="825.5" y="214.6"/><use href="#pl" x="828.2" y="223.8"/><use href="#pl" x="831.0" y="222.6"/><use href="#pl" x="833.8" y="211.9"/><use href="#pl" x="836.6" y="222.9"/><use href="#pl" x="839.4" y="205.3"/><use href="#pl" x="842.2" y="226.2"/><use href="#pl" x="845.0" y="213.6"/><use href="#pl" x="847.8" y="196.7"/><use href="#pl" x="850.5" y="208.2"/><use href="#pl" x="853.3" y="203.2"/><use href="#pl" x="856.1" y="204.4"/><use href="#pl" x="858.9" y="217.0"/><use href="#pl" x="861.7" y="205.1"/><use href="#pl" x="864.5" y="213.6"/><use href="#pl" x="867.3" y="215.8"/><use href="#pl" x="870.0" y="210.6"/><use href="#pl" x="872.8" y="189.0"/><use href="#pl" x="875.6" y="194.2"/><use href="#pl" x="878.4" y="214.2"/><use href="#pl" x="881.2" y="213.1"/><use href="#pl" x="884.0" y="212.6"/><use href="#pl" x="886.8" y="185.9"/><use href="#pl" x="889.6" y="188.9"/><use href="#pl" x="892.4" y="203.5"/><use href="#pl" x="895.1" y="191.4"/><use href="#pl" x="897.9" y="203.5"/><use href="#pl" x="900.7" y="190.7"/><use href="#pl" x="903.5" y="189.5"/><use href="#pl" x="906.3" y="197.7"/><use href="#pl" x="909.1" y="187.2"/><use href="#pl" x="911.9" y="181.4"/><use href="#pl" x="914.6" y="184.5"/><use href="#pl" x="917.4" y="195.7"/><use href="#pl" x="920.2" y="173.4"/><use href="#pl" x="923.0" y="186.4"/><use href="#pl" x="925.8" y="176.7"/><use href="#pl" x="928.6" y="184.5"/><use href="#pl" x="931.4" y="185.2"/><use href="#pl" x="934.2" y="190.3"/><use href="#pl" x="937.0" y="172.3"/><use href="#pl" x="939.7" y="178.8"/><use href="#pl" x="942.5" y="167.6"/><use href="#pl" x="945.3" y="185.8"/><use href="#pl" x="948.1" y="181.5"/><use href="#pl" x="950.9" y="175.4"/><use href="#pl" x="953.7" y="170.7"/><use href="#pl" x="956.5" y="184.9"/><use href="#pl" x="959.2" y="170.4"/><use href="#pl" x="962.0" y="159.4"/><use href="#pl" x="964.8" y="162.3"/><use href="#pl" x="967.6" y="155.1"/><use href="#pl" x="970.4" y="169.5"/><use href="#pl" x="973.2" y="152.1"/><use href="#pl" x="976.0" y="179.8"/><use href="#pl" x="978.8" y="147.3"/><use href="#pl" x="981.5" y="149.8"/>
</g>
<path d="M145.3 641.7L981.5 65.7" fill="none" stroke="#1f4436" stroke-width="2.2" stroke-dasharray="8.19 3.54"/>
<rect x="103.4" y="36.7" width="920.0" height="639.8" fill="none" stroke="#000" stroke-width="1.75"/>
<path d="M145.3 676.5v7.8M103.4 641.7h-7.8M284.7 676.5v7.8M103.4 545.7h-7.8M424.1 676.5v7.8M103.4 449.7h-7.8M563.4 676.5v7.8M103.4 353.7h-7.8M702.8 676.5v7.8M103.4 257.7h-7.8M842.2 676.5v7.8M103.4 161.7h-7.8M981.5 676.5v7.8M103.4 65.7h-7.8" fill="none" stroke="#000" stroke-width="1.75"/>
<g font-size="31.0">
<text x="145.3" y="715.4" text-anchor="middle">0.0</text>
<text x="284.7" y="715.4" text-anchor="middle">0.5</text>
<text x="424.1" y="715.4" text-anchor="middle">1.0</text>
<text x="563.4" y="715.4" text-anchor="middle">1.5</text>
<text x="702.8" y="715.4" text-anchor="middle">2.0</text>
<text x="842.2" y="715.4" text-anchor="middle">2.5</text>
<text x="981.5" y="715.4" text-anchor="middle">3.0</text>
<text x="88.0" y="653.5" text-anchor="end">0.0</text>
<text x="88.0" y="557.5" text-anchor="end">0.5</text>
<text x="88.0" y="461.5" text-anchor="end">1.0</text>
<text x="88.0" y="365.5" text-anchor="end">1.5</text>
<text x="88.0" y="269.5" text-anchor="end">2.0</text>
<text x="88.0" y="173.5" text-anchor="end">2.5</text>
<text x="88.0" y="77.5" text-anchor="end">3.0</text>
<text x="563.4" y="23.2" text-anchor="middle">Predicted vs. Actual</text>
<text x="563.4" y="754.7" text-anchor="middle">Actual Values</text>
<text transform="translate(23.5 356.6) rotate(-90)" text-anchor="middle">Predicted Values</text>
<text x="563.4" y="823.7" text-anchor="middle"><tspan font-style="italic">R</tspan><tspan font-size="21.7" dy="-11" dx="2">2</tspan><tspan dy="11"> = 0.954</tspan></text>
</g>
<rect x="119.4" y="52.1" width="345.7" height="236.7" rx="5" ry="5" fill="#fff" fill-opacity="0.8" stroke="#ccc" stroke-width="2"/>
<use href="#sq" x="162.3" y="77.3"/>
<use href="#ci" x="162.3" y="122.9"/>
<use href="#xm" x="162.3" y="168.2"/>
<use href="#pl" x="162.3" y="213.6"/>
<path d="M131.5 259.2H193.5" fill="none" stroke="#1f4436" stroke-width="2.2" stroke-dasharray="8.19 3.54"/>
<g font-size="31.0">
<text x="218" y="87.8">Uniform Flow</text>
<text x="218" y="133.4">No Flow</text>
<text x="218" y="178.9">Poiseuille Flow</text>
<text x="218" y="224.2">Couette Flow</text>
<text x="218" y="269.6">y = x</text>
</g>
</svg>
</body></html>
